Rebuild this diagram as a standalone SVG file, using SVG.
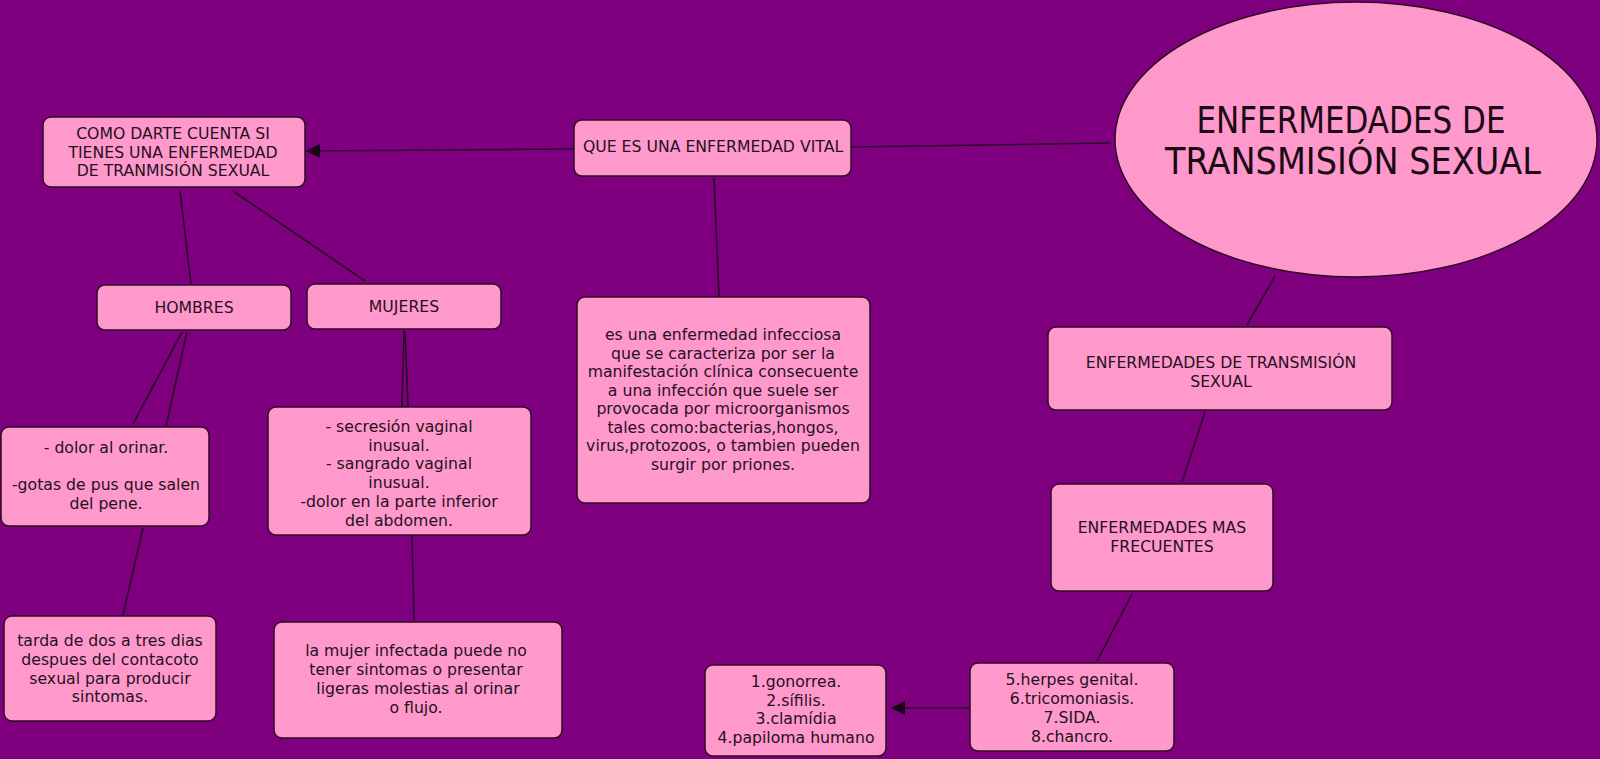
<svg xmlns="http://www.w3.org/2000/svg" width="1600" height="759" viewBox="0 0 1600 759">
<style>
.box{fill:#ff99cc;stroke:#2e0a28;stroke-width:1.5}
.t{font-family:"DejaVu Sans",Verdana,sans-serif;font-size:15.7px;fill:#26101e;text-anchor:middle}
.big{font-family:"DejaVu Sans",sans-serif;font-size:37px;fill:#1a0a14;text-anchor:middle}
.ln{stroke:#2a0828;stroke-width:1.6;fill:none}
</style>
<defs>
<marker id="arr" viewBox="0 0 14 14" refX="14" refY="7" markerWidth="14" markerHeight="14" orient="auto" markerUnits="userSpaceOnUse">
<path d="M0,0 L14,7 L0,14 z" fill="#1a0418"/>
</marker>
</defs>
<rect x="0" y="0" width="1600" height="759" fill="#7f007f"/>
<g id="connectors">
<line class="ln" x1="574" y1="149" x2="306" y2="151" marker-end="url(#arr)"/>
<line class="ln" x1="852" y1="147" x2="1111" y2="143"/>
<line class="ln" x1="714" y1="178" x2="719" y2="296"/>
<line class="ln" x1="180" y1="191" x2="191" y2="284"/>
<line class="ln" x1="233" y1="191" x2="365" y2="281"/>
<line class="ln" x1="182" y1="332" x2="133" y2="424"/>
<line class="ln" x1="187" y1="332" x2="166" y2="426"/>
<line class="ln" x1="143" y1="528" x2="123" y2="615"/>
<line class="ln" x1="404" y1="331" x2="402" y2="406"/>
<line class="ln" x1="405" y1="331" x2="408" y2="406"/>
<line class="ln" x1="412" y1="536" x2="414" y2="620"/>
<line class="ln" x1="1275" y1="276" x2="1247" y2="325"/>
<line class="ln" x1="1205" y1="412" x2="1182" y2="482"/>
<line class="ln" x1="1132" y1="594" x2="1097" y2="661"/>
<line class="ln" x1="969" y1="708" x2="891" y2="708" marker-end="url(#arr)"/>
</g>
<g id="title">
<ellipse cx="1356" cy="139.5" rx="241" ry="137.5" class="box"/>
<text class="big" x="1351" y="133" textLength="309" lengthAdjust="spacingAndGlyphs">ENFERMEDADES DE</text>
<text class="big" x="1353" y="174" textLength="376" lengthAdjust="spacingAndGlyphs">TRANSMISIÓN SEXUAL</text>
</g>
<g id="como">
<rect x="43" y="117" width="262" height="70" rx="8" class="box"/>
<text class="t" x="173" y="139">COMO DARTE CUENTA SI</text>
<text class="t" x="173" y="157.5">TIENES UNA ENFERMEDAD</text>
<text class="t" x="173" y="176">DE TRANMISIÓN SEXUAL</text>
</g>
<g id="que">
<rect x="574" y="120" width="277" height="56" rx="8" class="box"/>
<text class="t" x="713" y="152">QUE ES UNA ENFERMEDAD VITAL</text>
</g>
<g id="definicion">
<rect x="577" y="297" width="293" height="206" rx="8" class="box"/>
<text class="t" x="723" y="340">es una enfermedad infecciosa</text>
<text class="t" x="723" y="358.5">que se caracteriza por ser la</text>
<text class="t" x="723" y="377">manifestación clínica consecuente</text>
<text class="t" x="723" y="395.5">a una infección que suele ser</text>
<text class="t" x="723" y="414">provocada por microorganismos</text>
<text class="t" x="723" y="432.5">tales como:bacterias,hongos,</text>
<text class="t" x="723" y="451">virus,protozoos, o tambien pueden</text>
<text class="t" x="723" y="469.5">surgir por priones.</text>
</g>
<g id="hombres">
<rect x="97" y="285" width="194" height="45" rx="8" class="box"/>
<text class="t" x="194" y="313">HOMBRES</text>
</g>
<g id="mujeres">
<rect x="307" y="284" width="194" height="45" rx="8" class="box"/>
<text class="t" x="404" y="312">MUJERES</text>
</g>
<g id="sintomas-hombres">
<rect x="1" y="427" width="208" height="99" rx="8" class="box"/>
<text class="t" x="106" y="453">- dolor al orinar.</text>
<text class="t" x="106" y="490">-gotas de pus que salen</text>
<text class="t" x="106" y="509">del pene.</text>
</g>
<g id="tarda">
<rect x="4" y="616" width="212" height="105" rx="8" class="box"/>
<text class="t" x="110" y="646">tarda de dos a tres dias</text>
<text class="t" x="110" y="665">despues del contacoto</text>
<text class="t" x="110" y="683.5">sexual para producir</text>
<text class="t" x="110" y="702">sintomas.</text>
</g>
<g id="sintomas-mujeres">
<rect x="268" y="407" width="263" height="128" rx="8" class="box"/>
<text class="t" x="399" y="432">- secresión vaginal</text>
<text class="t" x="399" y="450.5">inusual.</text>
<text class="t" x="399" y="469">- sangrado vaginal</text>
<text class="t" x="399" y="488">inusual.</text>
<text class="t" x="399" y="507">-dolor en la parte inferior</text>
<text class="t" x="399" y="526">del abdomen.</text>
</g>
<g id="mujer-infectada">
<rect x="274" y="622" width="288" height="116" rx="8" class="box"/>
<text class="t" x="416" y="656">la mujer infectada puede no</text>
<text class="t" x="416" y="675">tener sintomas o presentar</text>
<text class="t" x="418" y="693.5">ligeras molestias al orinar</text>
<text class="t" x="416" y="712.5">o flujo.</text>
</g>
<g id="ets">
<rect x="1048" y="327" width="344" height="83" rx="8" class="box"/>
<text class="t" x="1221" y="368">ENFERMEDADES DE TRANSMISIÓN</text>
<text class="t" x="1221" y="387">SEXUAL</text>
</g>
<g id="frecuentes">
<rect x="1051" y="484" width="222" height="107" rx="8" class="box"/>
<text class="t" x="1162" y="533">ENFERMEDADES MAS</text>
<text class="t" x="1162" y="552">FRECUENTES</text>
</g>
<g id="lista2">
<rect x="970" y="663" width="204" height="88" rx="8" class="box"/>
<text class="t" x="1072" y="685">5.herpes genital.</text>
<text class="t" x="1072" y="704">6.tricomoniasis.</text>
<text class="t" x="1072" y="722.5">7.SIDA.</text>
<text class="t" x="1072" y="741.5">8.chancro.</text>
</g>
<g id="lista1">
<rect x="705" y="665" width="181" height="91" rx="8" class="box"/>
<text class="t" x="796" y="687">1.gonorrea.</text>
<text class="t" x="796" y="705.5">2.sífilis.</text>
<text class="t" x="796" y="724">3.clamídia</text>
<text class="t" x="796" y="742.5">4.papiloma humano</text>
</g>
</svg>
